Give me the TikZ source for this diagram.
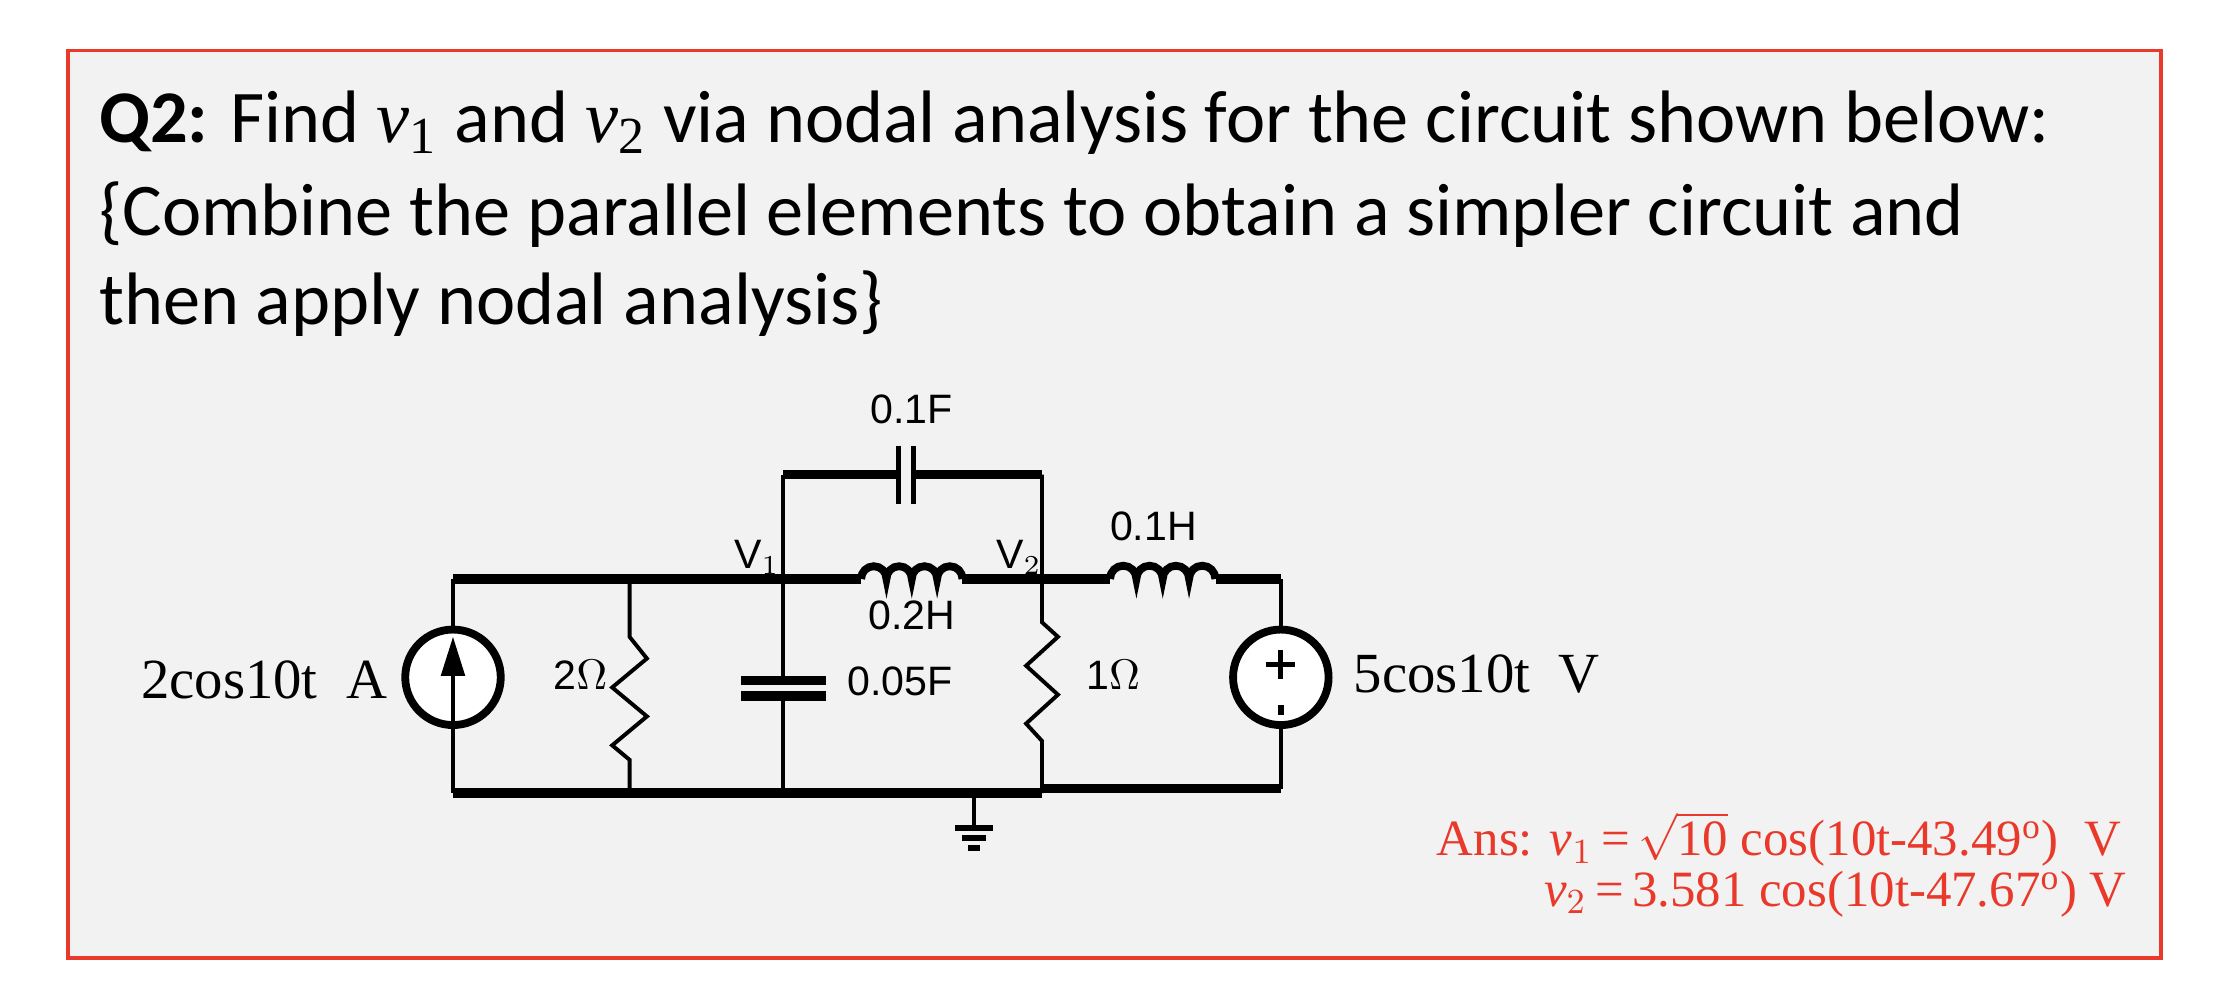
\documentclass[tikz,border=0pt]{standalone}
\usepackage{fontspec}
\setmainfont{Liberation Serif}
\newfontfamily\calfnt{Carlito}
\newfontfamily\ari{Liberation Sans}
\usetikzlibrary{arrows.meta}
\definecolor{bg}{HTML}{F2F2F2}
\definecolor{rd}{HTML}{E8392B}
\tikzset{wire/.style={line width=2.4pt},thin wire/.style={line width=1pt},
lbl/.style={font=\ari\fontsize{10.5}{12}\selectfont,inner sep=0pt},
src/.style={font=\fontsize{14.5}{15}\selectfont,inner sep=0pt},
ans/.style={font=\fontsize{13}{14}\selectfont,inner sep=0pt,text=rd,anchor=east},
ttl/.style={anchor=west,inner sep=0pt,font=\calfnt\fontsize{19}{22}\selectfont}}
\begin{document}
\begin{tikzpicture}[x=0.013cm,y=-0.013cm]
\useasboundingbox (0,0) rectangle (1545,681);
\fill[white] (0,0) rectangle (1545,681);
\draw[rd,fill=bg,line width=0.9pt] (47,35) rectangle (1493,662);
\node[ttl] (t1) at (68,85) {\textbf{Q2:} Find {\rmfamily\itshape v}$_{\rm 1}$ and {\rmfamily\itshape v}$_{\rm 2}$ via nodal analysis for the circuit shown below:};
\node[ttl] (t2) at (68,148) {\{Combine the parallel elements to obtain a simpler circuit and};
\node[ttl] (t3) at (68,210) {then apply nodal analysis\}};
% nodes
\coordinate (TL) at (313,400); \coordinate (BL) at (313,548);
\coordinate (R2t) at (435,400); \coordinate (R2b) at (435,548);
\coordinate (Ct) at (541,328); \coordinate (Cb) at (541,548);
\coordinate (V2t) at (720,328); \coordinate (V2b) at (720,548);
\coordinate (TR) at (885,400); \coordinate (BR) at (885,545);
% top wire
\draw[wire] (TL) -- (595,400);
\draw[wire] (665,400) -- (767,400);
\draw[wire] (840,400) -- (TR);
\draw[thin wire] (TR) -- (885,435);
\draw[thin wire] (885,501) -- (BR);
\draw[wire] (BL) -- (V2b);
\draw[wire] (720,545) -- (BR);
% inductors
\draw[line width=2pt] (595,400) \foreach \i in {0,1,2,3} { arc[start angle=180,end angle=0,radius=0.1138cm] };
\draw[line width=2pt] (767,400) \foreach \i in {0,1,2,3} { arc[start angle=180,end angle=0,radius=0.1183cm] };
% current source
\draw[thin wire] (TL) -- (313,435); \draw[thin wire] (313,501) -- (BL);
\draw[line width=2pt,fill=white] (313,468) circle[radius=0.429cm];
\draw[line width=1pt,-{Triangle[length=10pt,width=6pt]}] (313,500) -- (313,440);
% voltage source
\draw[line width=2pt,fill=white] (885,468) circle[radius=0.429cm];
\draw[line width=1.3pt] (885,449) -- (885,469) (875,459) -- (895,459);
\draw[line width=1.5pt] (885,487) -- (885,494);
% 2 ohm
\draw[thin wire] (R2t) -- (435,440) -- (447,455) -- (423,475) -- (447,495) -- (423,515) -- (435,525) -- (R2b);
% capacitor 0.05F
\draw[thin wire] (Ct) -- (541,470) (541,481) -- (Cb);
\draw[line width=2.4pt] (512,470) -- (571,470) (512,481) -- (571,481);
% top cap
\draw[wire] (Ct) -- (621,328) (631,328) -- (V2t);
\draw[line width=1.2pt] (621,308) -- (621,348) (631,308) -- (631,348);
% 1 ohm
\draw[thin wire] (V2t) -- (720,430) -- (731,440) -- (709,460) -- (731,480) -- (709,500) -- (720,512) -- (V2b);
% ground
\coordinate (G) at (673,570);
\draw[thin wire] (673,548) -- (G);
\draw[line width=1.5pt] (660,572) -- (686,572) (665,579) -- (681,579) (669,586) -- (677,586);
% labels
\node[lbl] (l1) at (630,283) {0.1F};
\node[lbl] (l2) at (523,385) {V$_1$};
\node[lbl] (l3) at (704,385) {V$_2$};
\node[lbl] (l4) at (630,425) {0.2H};
\node[lbl] (l5) at (797,364) {0.1H};
\node[lbl] (l6) at (401,466) {2$\Omega$};
\node[lbl,anchor=west] (l7) at (585,471) {0.05F};
\node[lbl,anchor=west] (l8) at (750,466) {1$\Omega$};
\node[src,anchor=east] (s1) at (268,470) {2cos10t\ \ A};
\node[src,anchor=west] (s2) at (935,466) {5cos10t\ \ V};
\node[ans] (a1) at (1466,580) {Ans: \textit{v}$_1$\,=\,$\sqrt{\mathrm{10}}$ cos(10t-43.49$^{\rm o}$)\ \ V};
\node[ans] (a2) at (1470,618) {\textit{v}$_2$\,=\,3.581 cos(10t-47.67$^{\rm o}$) V};
\end{tikzpicture}
\end{document}
